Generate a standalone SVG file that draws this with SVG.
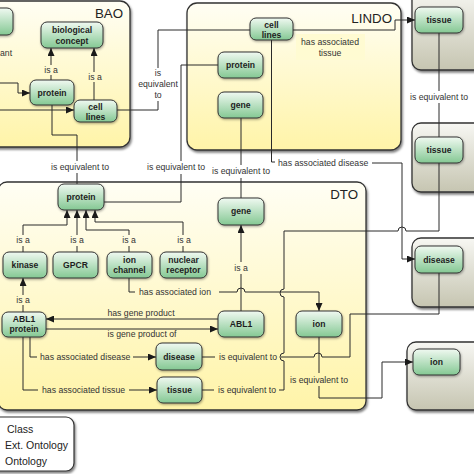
<svg xmlns="http://www.w3.org/2000/svg" width="474" height="474" viewBox="0 0 474 474">
<defs>
<linearGradient id="gY" x1="0" y1="0" x2="0" y2="1"><stop offset="0" stop-color="#fffef4"/><stop offset="1" stop-color="#fff4a8"/></linearGradient>
<linearGradient id="gG" x1="0" y1="0" x2="0" y2="1"><stop offset="0" stop-color="#f7f7f3"/><stop offset="1" stop-color="#c6c5b1"/></linearGradient>
<linearGradient id="gN" x1="0" y1="0" x2="0" y2="1"><stop offset="0" stop-color="#f0f9f1"/><stop offset="1" stop-color="#84c893"/></linearGradient>
<filter id="sh" x="-10%" y="-10%" width="130%" height="130%"><feDropShadow dx="1.2" dy="2" stdDeviation="1.2" flood-color="#000" flood-opacity="0.5"/></filter>
<filter id="shn" x="-10%" y="-10%" width="130%" height="140%"><feDropShadow dx="0.6" dy="1.2" stdDeviation="0.8" flood-color="#000" flood-opacity="0.35"/></filter>
<marker id="ar" markerUnits="userSpaceOnUse" markerWidth="8" markerHeight="7" refX="8" refY="3.5" orient="auto"><path d="M0,0 L8,3.5 L0,7 z" fill="#1a1a1a"/></marker>
<style>
.co{fill:url(#gY);stroke:#333;stroke-width:1.3;filter:url(#sh)}
.cx{fill:url(#gG);stroke:#333;stroke-width:1.3;filter:url(#sh)}
.n rect{fill:url(#gN);stroke:#333;stroke-width:1;filter:url(#shn)}
.nt{font-family:"Liberation Sans",Arial,sans-serif;font-weight:bold;font-size:8.6px;fill:#1e1e1e;text-anchor:middle}
.el{font-family:"Liberation Sans",Arial,sans-serif;font-size:8.7px;fill:#333;text-anchor:middle}
.ct{font-family:"Liberation Sans",Arial,sans-serif;font-size:13.3px;fill:#222;text-anchor:end}
.lg{font-family:"Liberation Sans",Arial,sans-serif;font-size:10.5px;fill:#222}
.c{fill:none;stroke:#2a2a2a;stroke-width:1}
.a{marker-end:url(#ar)}
</style>
</defs>
<rect width="474" height="474" fill="#fff"/>

<!-- containers -->
<g id="BAO"><rect class="co" x="-20" y="1" width="150" height="146" rx="10"/><text class="ct" x="123" y="18">BAO</text></g>
<g id="LINDO"><rect class="co" x="187" y="3" width="214" height="147" rx="10"/><text class="ct" x="392" y="22.5">LINDO</text>
<rect x="296" y="34" width="69" height="26" fill="#fffbd2"/></g>
<g id="DTO"><rect class="co" x="-2" y="182" width="368" height="228" rx="9"/><text class="ct" x="358" y="199">DTO</text></g>
<g id="ext1"><rect class="cx" x="412" y="-12" width="80" height="82" rx="9"/></g>
<g id="ext2"><rect class="cx" x="412" y="123" width="80" height="69" rx="9"/></g>
<g id="ext3"><rect class="cx" x="412" y="238" width="80" height="69" rx="9"/></g>
<g id="ext4"><rect class="cx" x="407" y="342" width="85" height="68" rx="9"/></g>
<g id="legend"><rect x="-10" y="417" width="84" height="54" rx="8" fill="#fff" stroke="#333" stroke-width="1.2" filter="url(#sh)"/>
<text class="lg" x="7" y="433">Class</text><text class="lg" x="5" y="449">Ext. Ontology</text><text class="lg" x="5" y="465">Ontology</text></g>

<!-- connectors -->
<g id="connectors">
<path class="c a" d="M-5,83 H18 V93 H30"/>
<path class="c a" d="M-5,110 H74"/>
<path class="c" d="M51,80 V75"/><path class="c a" d="M51,65 V48"/>
<path class="c" d="M94,100 V82"/><path class="c a" d="M94,72 V48"/>
<path class="c" d="M52,105 V135 H77 V161"/><path class="c" d="M77,173 V184"/>
<path class="c" d="M117,110 H158 V101"/><path class="c" d="M158,68 V30 H250"/>
<path class="c a" d="M293,30 H395 V20 H415"/>
<path class="c" d="M218,65 H181 V161"/><path class="c" d="M181,174 V202 H104"/>
<path class="c" d="M241,118 V165"/><path class="c" d="M241,178 V198"/>
<path class="c" d="M271.5,40 V162 H275"/><path class="c a" d="M372,163 H402 V259 H415"/>
<path class="c" d="M439,33 V91"/><path class="c" d="M439,103 V137"/>
<path class="c" d="M439,163 V231 H406 A4,4 0 0 0 398,231 H284 V289 A4,4 0 0 0 284,297 V353 A4,4 0 0 0 284,361 V390 H279"/>
<path class="c" d="M202,390 H214"/>
<path class="c" d="M202,357 H215"/>
<path class="c" d="M281,357 H314 A4,4 0 0 1 322,357 H350 V314 H439 V273"/>
<path class="c" d="M319,337 V373"/><path class="c a" d="M319,386 V398 H382 V362 H413"/>
<path class="c" d="M129,278 V292 H135"/><path class="c a" d="M219,292 H237 A4,4 0 0 1 245,292 H319 V311"/>
<path class="c" d="M23,252 V246"/><path class="c a" d="M23,235 V225 H67 V210"/>
<path class="c" d="M77,252 V246"/><path class="c a" d="M77,235 V210"/>
<path class="c" d="M129,252 V246"/><path class="c a" d="M129,235 V230 H86 V210"/>
<path class="c" d="M183,252 V246"/><path class="c a" d="M183,235 V222 H95 V210"/>
<path class="c" d="M23,312 V305"/><path class="c a" d="M23,295 V278"/>
<path class="c" d="M241,311 V274"/><path class="c a" d="M241,262 V225"/>
<path class="c a" d="M218,319 H46"/>
<path class="c a" d="M46,329 H218"/>
<path class="c" d="M30,337 V357 H37"/><path class="c a" d="M133,357 H156"/>
<path class="c" d="M23,337 V390 H38"/><path class="c a" d="M129,390 H157"/>

<text class="el" x="51" y="73">is a</text>
<text class="el" x="95" y="80">is a</text>
<text class="el" x="158" y="75.5">is</text><text class="el" x="158" y="86.5">equivalent</text><text class="el" x="158" y="97.5">to</text>
<text class="el" x="330" y="45">has associated</text><text class="el" x="330" y="55.5">tissue</text>
<text class="el" x="80" y="169.5">is equivalent to</text>
<text class="el" x="176" y="170">is equivalent to</text>
<text class="el" x="241" y="174">is equivalent to</text>
<text class="el" x="278" y="166" style="text-anchor:start">has associated disease</text>
<text class="el" x="439" y="99.5">is equivalent to</text>
<text class="el" x="23" y="243">is a</text><text class="el" x="77" y="243">is a</text><text class="el" x="129" y="243">is a</text><text class="el" x="184" y="243">is a</text>
<text class="el" x="139" y="295" style="text-anchor:start">has associated ion</text>
<text class="el" x="241" y="271">is a</text>
<text class="el" x="23" y="303">is a</text>
<text class="el" x="141" y="315.5">has gene product</text>
<text class="el" x="142" y="336.5">is gene product of</text>
<text class="el" x="40" y="360" style="text-anchor:start">has associated disease</text>
<text class="el" x="42" y="393" style="text-anchor:start">has associated tissue</text>
<text class="el" x="248" y="360">is equivalent to</text>
<text class="el" x="247" y="393">is equivalent to</text>
<text class="el" x="319" y="383">is equivalent to</text>
<text class="el" x="0" y="56" style="text-anchor:start">ant</text>
</g>

<!-- nodes -->
<g id="bao-partial" class="n"><rect x="-30" y="8" width="43" height="27" rx="6"/></g>
<g id="bao-bioconcept" class="n"><rect x="41" y="22" width="62" height="26" rx="6"/><text class="nt" x="72" y="33">biological</text><text class="nt" x="72" y="43.5">concept</text></g>
<g id="bao-protein" class="n"><rect x="30" y="80" width="44" height="25" rx="6"/><text class="nt" x="52" y="96">protein</text></g>
<g id="bao-celllines" class="n"><rect x="74" y="100" width="43" height="22" rx="6"/><text class="nt" x="95.5" y="110">cell</text><text class="nt" x="95.5" y="119.5">lines</text></g>
<g id="lindo-celllines" class="n"><rect x="250" y="18" width="43" height="22" rx="6"/><text class="nt" x="271.5" y="27.5">cell</text><text class="nt" x="271.5" y="37.5">lines</text></g>
<g id="lindo-protein" class="n"><rect x="218" y="52" width="45" height="26" rx="6"/><text class="nt" x="240.5" y="68">protein</text></g>
<g id="lindo-gene" class="n"><rect x="218" y="92" width="45" height="26" rx="6"/><text class="nt" x="240.5" y="108">gene</text></g>
<g id="ext-tissue1" class="n"><rect x="415" y="7" width="48" height="26" rx="6"/><text class="nt" x="439" y="23">tissue</text></g>
<g id="ext-tissue2" class="n"><rect x="415" y="137" width="48" height="26" rx="6"/><text class="nt" x="439" y="153">tissue</text></g>
<g id="ext-disease" class="n"><rect x="415" y="246" width="48" height="27" rx="6"/><text class="nt" x="439" y="263">disease</text></g>
<g id="ext-ion" class="n"><rect x="413" y="349" width="47" height="26" rx="6"/><text class="nt" x="436.5" y="365">ion</text></g>
<g id="dto-protein" class="n"><rect x="58" y="184" width="46" height="26" rx="6"/><text class="nt" x="81" y="200">protein</text></g>
<g id="dto-kinase" class="n"><rect x="3" y="252" width="44" height="26" rx="6"/><text class="nt" x="25" y="268">kinase</text></g>
<g id="dto-gpcr" class="n"><rect x="53" y="252" width="45" height="26" rx="6"/><text class="nt" x="75.5" y="268">GPCR</text></g>
<g id="dto-ionchannel" class="n"><rect x="107" y="252" width="45" height="26" rx="6"/><text class="nt" x="129.5" y="262.5">ion</text><text class="nt" x="129.5" y="273">channel</text></g>
<g id="dto-nuclear" class="n"><rect x="160" y="252" width="47" height="26" rx="6"/><text class="nt" x="183.5" y="262.5">nuclear</text><text class="nt" x="183.5" y="273">receptor</text></g>
<g id="dto-gene" class="n"><rect x="218" y="198" width="46" height="27" rx="6"/><text class="nt" x="241" y="214">gene</text></g>
<g id="dto-abl1protein" class="n"><rect x="2" y="312" width="44" height="25" rx="6"/><text class="nt" x="24" y="321.5">ABL1</text><text class="nt" x="24" y="332">protein</text></g>
<g id="dto-abl1" class="n"><rect x="218" y="311" width="46" height="26" rx="6"/><text class="nt" x="241" y="327">ABL1</text></g>
<g id="dto-ion" class="n"><rect x="296" y="311" width="46" height="26" rx="6"/><text class="nt" x="319" y="327">ion</text></g>
<g id="dto-disease" class="n"><rect x="156" y="343" width="46" height="27" rx="6"/><text class="nt" x="179" y="360">disease</text></g>
<g id="dto-tissue" class="n"><rect x="157" y="377" width="45" height="26" rx="6"/><text class="nt" x="179.5" y="393">tissue</text></g>
</svg>
